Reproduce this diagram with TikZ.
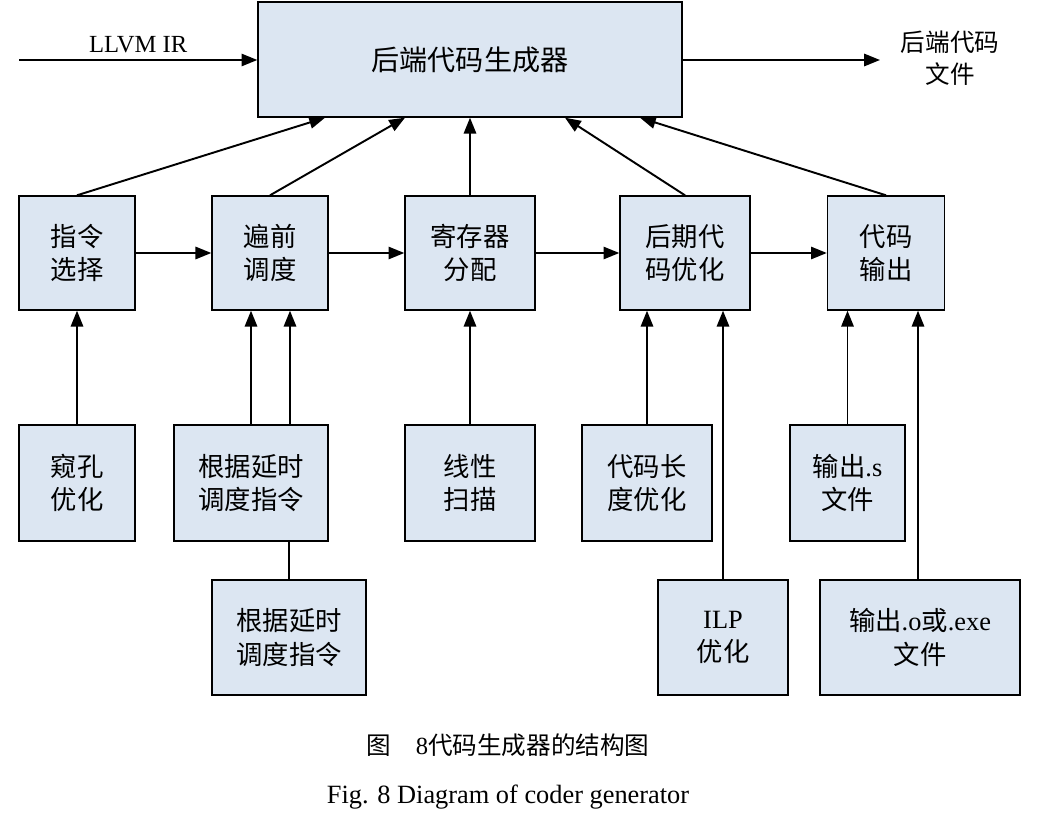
\documentclass[tikz,border=0pt]{standalone}
\usepackage{fontspec}
\setmainfont{Liberation Serif}
\newfontfamily\cjk{Noto Sans CJK SC}
\usetikzlibrary{arrows.meta,positioning}
\definecolor{boxfill}{HTML}{DCE6F2}
\begin{document}
\begin{tikzpicture}[x=0.02cm,y=-0.02cm,>={Triangle[length=9pt,width=7pt]},thick]
  \tikzset{
    blk/.style={draw, fill=boxfill, align=center, inner sep=0pt, font=\cjk\fontsize{15}{19}\selectfont},
    link/.style={->, line width=1.1pt}
  }
  \useasboundingbox (0,0) rectangle (1037,817);

  % main box
  \node[blk, minimum width=8.48cm, minimum height=2.3cm, font=\cjk\fontsize{16}{20}\selectfont] (gen) at (470,59.5) {后端代码生成器};

  % second row
  \node[blk, minimum width=2.32cm, minimum height=2.28cm] (sel) at (77,253) {指令\\选择};
  \node[blk, minimum width=2.32cm, minimum height=2.28cm] (pre) at (270,253) {遍前\\调度};
  \node[blk, minimum width=2.6cm, minimum height=2.28cm] (reg) at (470,253) {寄存器\\分配};
  \node[blk, minimum width=2.6cm, minimum height=2.28cm] (post) at (685,253) {后期代\\码优化};
  \node[blk, minimum width=2.34cm, minimum height=2.28cm] (out) at (886,253) {代码\\输出};

  % third row
  \node[blk, minimum width=2.32cm, minimum height=2.32cm] (peep) at (77,483) {窥孔\\优化};
  \node[blk, minimum width=3.08cm, minimum height=2.32cm] (lat) at (251,483) {根据延时\\调度指令};
  \node[blk, minimum width=2.6cm, minimum height=2.32cm] (scan) at (470,483) {线性\\扫描};
  \node[blk, minimum width=2.6cm, minimum height=2.32cm] (len) at (647,483) {代码长\\度优化};
  \node[blk, minimum width=2.3cm, minimum height=2.32cm] (outs) at (847.5,483) {输出{\rmfamily .s}\\文件};

  % fourth row
  \node[blk, minimum width=3.08cm, minimum height=2.3cm] (lat2) at (289,637.5) {根据延时\\调度指令};
  \node[blk, minimum width=2.6cm, minimum height=2.3cm] (ilp) at (723,637.5) {{\rmfamily ILP}\\优化};
  \node[blk, minimum width=4cm, minimum height=2.3cm] (outo) at (920,637.5) {输出{\rmfamily .o}或{\rmfamily .exe}\\文件};

  % input and output
  \coordinate (in) at (19,60);
  \coordinate (res) at (880,60);
  \draw[link] (in) -- node[above, font=\fontsize{14}{16}\selectfont] {LLVM IR} (gen.west |- in);
  \draw[link] (gen.east |- res) -- (res);
  \node[align=center, font=\cjk\fontsize{14}{18}\selectfont] (restxt) at (950,58) {后端代码\\文件};

  % up to the generator
  \draw[link] (sel.north) -- ([xshift=-2.9cm]gen.south);
  \draw[link] (pre.north) -- ([xshift=-1.3cm]gen.south);
  \draw[link] (reg.north) -- (gen.south);
  \draw[link] (post.north) -- ([xshift=1.9cm]gen.south);
  \draw[link] (out.north) -- ([xshift=3.4cm]gen.south);

  % along the chain
  \draw[link] (sel) -- (pre);
  \draw[link] (pre) -- (reg);
  \draw[link] (reg) -- (post);
  \draw[link] (post) -- (out);

  % inputs from below
  \draw[link] (peep) -- (sel);
  \draw[link] (lat.north -| 251,0) -- (pre.south -| 251,0);
  \draw[link] (lat.north -| 290,0) -- (pre.south -| 290,0);
  \draw[line width=1.1pt] (lat2.north) -- (lat.south -| lat2.north);
  \draw[link] (scan) -- (reg);
  \draw[link] (len.north) -- (post.south -| len.north);
  \draw[link] (ilp.north) -- (post.south -| ilp.north);
  \draw[link] (outs.north) -- (out.south -| outs.north);
  \draw[link] (outo.north -| 918,0) -- (out.south -| 918,0);

  % caption
  \node[font=\cjk\fontsize{14}{16}\selectfont] (capcn) at (508,745) {图\quad{\rmfamily 8}代码生成器的结构图};
  \node[font=\fontsize{15}{17}\selectfont] (capen) at (508,797) {Fig. 8 Diagram of coder generator};
\end{tikzpicture}
\end{document}
